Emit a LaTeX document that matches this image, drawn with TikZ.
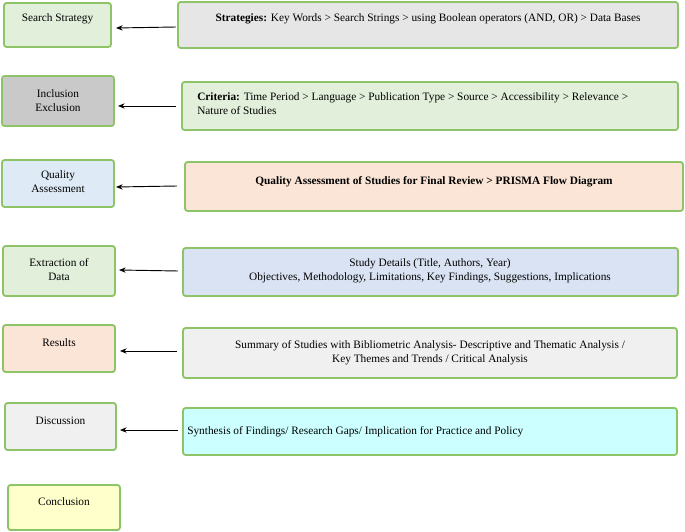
\documentclass[tikz,border=0pt]{standalone}
\usepackage{fontspec}
\setmainfont{Liberation Serif}
\usetikzlibrary{arrows.meta}
\definecolor{bd}{HTML}{8CC467}
\definecolor{cg}{HTML}{E2EFDA}
\definecolor{cgr}{HTML}{E6E6E6}
\definecolor{cdg}{HTML}{C9C9C9}
\definecolor{cb}{HTML}{DEEBF7}
\definecolor{cp}{HTML}{FBE5D6}
\definecolor{cbl}{HTML}{DAE3F3}
\definecolor{cl}{HTML}{F0F0F0}
\definecolor{cc}{HTML}{CCFFFF}
\definecolor{cy}{HTML}{FFFFCC}
\begin{document}
\begin{tikzpicture}[x=0.0264cm,y=-0.0264cm,
  box/.style={draw=bd,line width=1.4pt,rounded corners=2pt},
  txt/.style={font=\fontsize{8.5}{10.5}\selectfont,align=center,inner sep=0},
  arr/.style={-{Stealth[length=5pt,width=4pt]},line width=0.7pt}]
\useasboundingbox (0,0) rectangle (685,532);
% left boxes
\draw[box,fill=cg] (4,3) rectangle (111,47); \node[txt] (l1) at (57.5,25) {}; \node[txt] at (57.5,19){Search Strategy};
\draw[box,fill=cdg] (2,76) rectangle (114,126); \node[txt] (l2) at (58,101) {}; \node[txt] at (58,101){Inclusion\\Exclusion};
\draw[box,fill=cb] (2,160) rectangle (114,207); \node[txt] (l3) at (58,184) {}; \node[txt] at (58,182){Quality\\Assessment};
\draw[box,fill=cg] (3,246) rectangle (115,296); \node[txt] (l4) at (59,271) {}; \node[txt] at (59,270){Extraction of\\Data};
\draw[box,fill=cp] (3,325) rectangle (115,372); \node[txt] (l5) at (59,349) {}; \node[txt] at (59,343){Results};
\draw[box,fill=cl] (5,403) rectangle (116,450); \node[txt] (l6) at (60.5,427) {}; \node[txt] at (60.5,421){Discussion};
\draw[box,fill=cy] (8,485) rectangle (120,530); \node[txt] at (64,502){Conclusion};
% right boxes
\draw[box,fill=cgr] (178,2) rectangle (678,48);
\node[txt] (r1) at (428,19) {\textbf{Strategies:} Key Words > Search Strings > using Boolean operators (AND, OR) > Data Bases};
\draw[box,fill=cg] (182,82) rectangle (678,130);
\node[txt,align=left,anchor=west] (r2) at (197,104) {\textbf{Criteria:} Time Period > Language > Publication Type > Source > Accessibility > Relevance >\\Nature of Studies};
\draw[box,fill=cp] (185,162) rectangle (683,211);
\node[txt] (r3) at (434,182) {\textbf{Quality Assessment of Studies for Final Review > PRISMA Flow Diagram}};
\draw[box,fill=cbl] (183,248) rectangle (678,296);
\node[txt] (r4) at (430,271) {Study Details (Title, Authors, Year)\\Objectives, Methodology, Limitations, Key Findings, Suggestions, Implications};
\draw[box,fill=cl] (183,328) rectangle (677,378);
\node[txt] (r5) at (430,353) {Summary of Studies with Bibliometric Analysis- Descriptive and Thematic Analysis /\\Key Themes and Trends / Critical Analysis};
\draw[box,fill=cc] (183,408) rectangle (677,455);
\node[txt,anchor=west] (r6) at (187,432) {Synthesis of Findings/ Research Gaps/ Implication for Practice and Policy};
% arrows
\coordinate (a1) at (176,27); \coordinate (b1) at (116,28);
\coordinate (a2) at (176,106); \coordinate (b2) at (118,106);
\coordinate (a3) at (177,186); \coordinate (b3) at (116,187);
\coordinate (a4) at (178,271); \coordinate (b4) at (119,270);
\coordinate (a5) at (177,351); \coordinate (b5) at (120,351);
\coordinate (a6) at (178,430); \coordinate (b6) at (120,430);
\foreach \i in {1,...,6} \draw[arr] (a\i) -- (b\i);
\end{tikzpicture}
\end{document}
